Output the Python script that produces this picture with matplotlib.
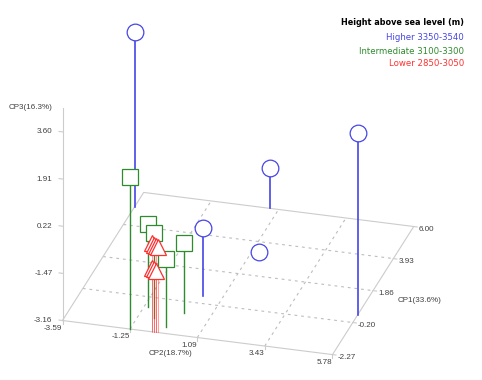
import os
import numpy as np
import matplotlib
matplotlib.use("Agg")
import matplotlib.pyplot as plt
from matplotlib import font_manager as fm
from mpl_toolkits.mplot3d import proj3d

# Scores (CP1, CP2, CP3) for each altitude group
blue_cp1 = [5.09, 6.00, 0.29, 0.24, 3.31]
blue_cp2 = [-3.59, 0.79, 5.78, 0.42, 1.32]
blue_cp3 = [3.08, -1.73, 3.36, -0.71, -3.16]

green_cp1 = [-2.27, -0.83, -1.44, -0.93, -1.90]
green_cp2 = [-1.25, -1.13, -0.70, 0.17, -0.11]
green_cp3 = [2.27, -0.19, -0.10, -0.62, -0.72]

red_cp1 = [-2.25, -2.25, -2.25, -2.25, -2.25, -2.25, -2.25]
red_cp2 = [-0.50, -0.43, -0.36, -0.29, -0.48, -0.41, -0.34]
red_cp3 = [0.00, -0.04, -0.08, -0.12, -0.88, -0.92, -0.96]

cp1_ticks = [-2.27, -0.20, 1.86, 3.93, 6.00]
cp2_ticks = [-3.59, -1.25, 1.09, 3.43, 5.78]
cp3_ticks = [-3.16, -1.47, 0.22, 1.91, 3.60]
cp3_top = 4.45

legend_title = "Height above sea level (m)"
legend_labels = ["Higher 3350-3540", "Intermediate 3100-3300", "Lower 2850-3050"]

BLUE = "#4646e6"
GREEN = "#2e8b2e"
RED = "#ff3030"
FRAME = "#cccccc"
TXT = "#404040"

SKIP = ("mono", "italic", "oblique", "light", "thin", "black", "extra",
        "semi", "medium", "serif")


def narrow_font(bold, size):
    # a condensed sans if one is installed, else plain Liberation Sans
    found = []
    for f in fm.fontManager.ttflist:
        name = os.path.basename(f.fname).lower()
        if "sans" not in name or not ("narrow" in name or "condensed" in name):
            continue
        if any(k in name for k in SKIP) or ("bold" in name) != bold:
            continue
        found.append(f.fname)
    for pref in ("liberation", "noto", "dejavu", ""):
        for fn in found:
            if pref in os.path.basename(fn).lower():
                return fm.FontProperties(fname=fn, size=size)
    return fm.FontProperties(family="Liberation Sans",
                             weight="bold" if bold else "normal", size=size)


W, H = 482, 380
fig = plt.figure(figsize=(W / 100, H / 100), dpi=100)
ax = fig.add_axes([0, 0, 1, 1], projection="3d", proj_type="ortho",
                  computed_zorder=False)
ax.set_axis_off()
ax.view_init(elev=26.5, azim=-74.2)

x0, x1 = cp2_ticks[0], cp2_ticks[-1]
y0, y1 = cp1_ticks[0], cp1_ticks[-1]
z0 = cp3_ticks[0]
ax.set_xlim(x0, x1)
ax.set_ylim(y0, y1)
ax.set_zlim(z0, cp3_top)
ax.set_box_aspect((280.5, 298.2, 237.2))

# floor frame, dashed grid and the vertical axis
ax.plot([x0, x1, x1, x0, x0], [y0, y0, y1, y1, y0], [z0] * 5,
        color=FRAME, lw=0.8, zorder=2)
ax.plot([x0, x0], [y0, y0], [z0, cp3_top], color=FRAME, lw=0.8, zorder=2)
for v in cp2_ticks[1:-1]:
    ax.plot([v, v], [y0, y1], [z0, z0], color="#bdbdbd", lw=0.8,
            ls=(0, (2.5, 3.5)), zorder=1)
for v in cp1_ticks[1:-1]:
    ax.plot([x0, x1], [v, v], [z0, z0], color="#bdbdbd", lw=0.8,
            ls=(0, (2.5, 3.5)), zorder=1)

for v in cp3_ticks:
    ax.plot([x0, x0 - 0.12], [y0, y0], [v, v], color=FRAME, lw=0.8, zorder=2)
for v in cp2_ticks:
    ax.plot([v, v], [y0, y0], [z0, z0 - 0.12], color=FRAME, lw=0.8, zorder=2)
for v in cp1_ticks:
    ax.plot([x1, x1 + 0.12], [v, v], [z0, z0], color=FRAME, lw=0.8, zorder=2)

# stems and markers
groups = [
    (blue_cp2, blue_cp1, blue_cp3, BLUE, "o", 12, 1.2, 1.0, 4),
    (green_cp2, green_cp1, green_cp3, GREEN, "s", 11.5, 1.0, 1.0, 5),
    (red_cp2, red_cp1, red_cp3, RED, "^", 12, 0.6, 0.55, 6),
]
for xs, ys, zs, col, mk, ms, slw, sa, zo in groups:
    for x, y, z in zip(xs, ys, zs):
        ax.plot([x, x], [y, y], [z0, z], color=col, lw=slw, alpha=sa, zorder=3)
    ax.plot(xs, ys, zs, ls="none", marker=mk, ms=ms, mfc="white", mec=col,
            mew=0.9, zorder=zo)

# place the 3D box so the front floor edge sits where it does in the reference
fig.canvas.draw()


def to_px(x, y, z):
    xs, ys, _ = proj3d.proj_transform(x, y, z, ax.get_proj())
    return np.array(ax.transData.transform((xs, ys)))


a = to_px(x0, y0, z0)
b = to_px(x1, y0, z0)
ta = np.array([62.5, H - 320.5])
tb = np.array([332.5, H - 354.5])
r = np.linalg.norm(tb - ta) / np.linalg.norm(b - a)
bb = ax.get_position().transformed(fig.transFigure)
o = np.array([bb.x0, bb.y0])
o_new = ta - r * (a - o)
ax.set_position([o_new[0] / W, o_new[1] / H, bb.width * r / W, bb.height * r / H])
fig.canvas.draw()


def label(x, y, z, s, dx, dy, **kw):
    px, py = to_px(x, y, z)
    fig.text((px + dx) / W, (py + dy) / H, s, fontsize=5.8, color=TXT,
             family="Liberation Sans", **kw)


for v in cp3_ticks:
    label(x0, y0, v, f"{v:.2f}", -10, 0, ha="right", va="center")
for v in cp2_ticks:
    label(v, y0, z0, f"{v:.2f}", 0, -4, ha="right", va="top")
for v in cp1_ticks:
    label(x1, v, z0, f"{v:.2f}", 5, -3, ha="left", va="center")

label(x0, y0, cp3_top, "CP3(16.3%)", -10, 1, ha="right", va="center")
label((x0 + x1) / 2, y0, z0, "CP2(18.7%)", -5, -15.5, ha="right", va="center")
label(x1, (y0 + y1) / 2, z0, "CP1(33.6%)", 25, -9.5, ha="left", va="center")

# legend block (top right)
fig.text(464 / W, 1 - 22.7 / H, legend_title, ha="right", va="center",
         fontproperties=narrow_font(True, 6.5))
reg = narrow_font(False, 6.8)
for lab, col, yy in zip(legend_labels, [BLUE, GREEN, RED], [38, 51, 64]):
    fig.text(464 / W, 1 - yy / H, lab, ha="right", va="center", color=col,
             fontproperties=reg)

fig.savefig("out.png", dpi=100)
